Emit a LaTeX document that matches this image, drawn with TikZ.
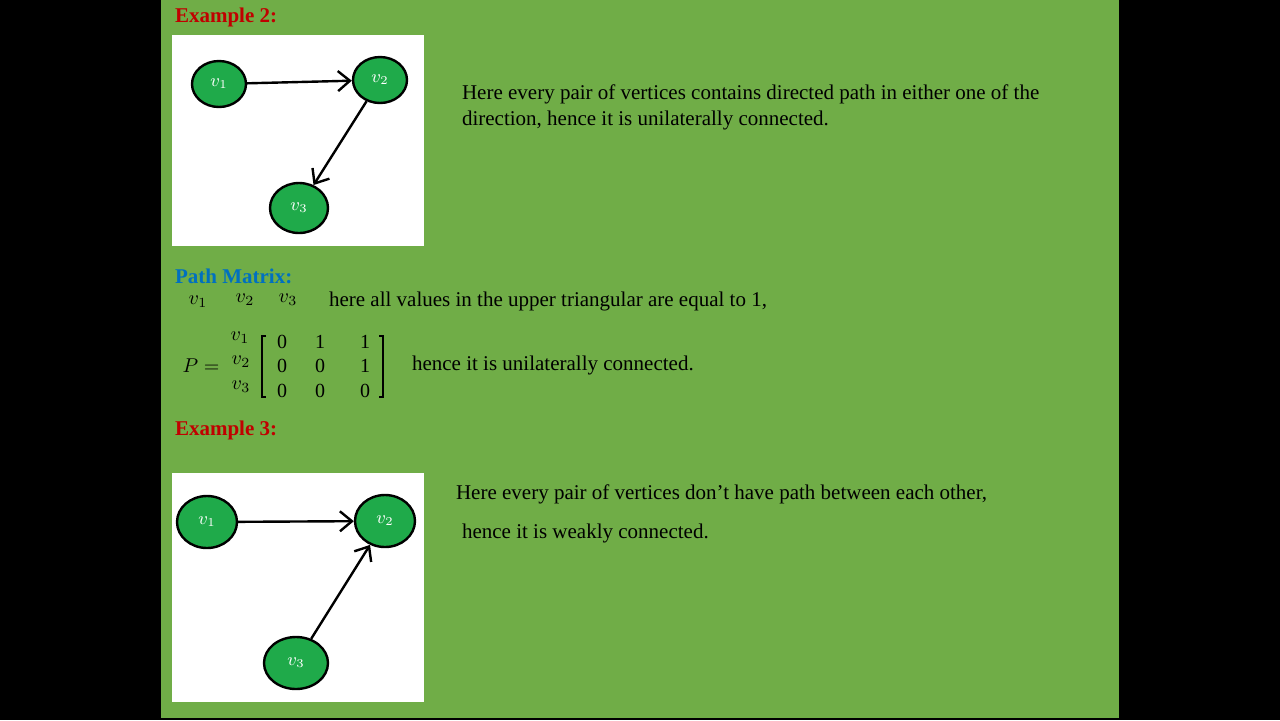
\documentclass[tikz,border=0pt]{standalone}
\usepackage{fontspec}
\setmainfont{Liberation Serif}
\usetikzlibrary{arrows.meta}
\definecolor{bg}{HTML}{70AD47}
\definecolor{nodegreen}{HTML}{1FAA4A}
\definecolor{hred}{HTML}{C00000}
\definecolor{hblue}{HTML}{0070C0}
\tikzset{
  vtx/.style={ellipse,draw=black,line width=1.2pt,fill=nodegreen,inner sep=0pt,text=white,font=\small},
  edge/.style={line width=1.2pt,-{Straight Barb[length=6pt,width=10pt,line width=1.2pt]}},
  body/.style={anchor=west,font=\fontsize{10.5}{13}\selectfont,align=left},
  head/.style={anchor=west,font=\fontsize{10.5}{13}\selectfont\bfseries},
  mtx/.style={font=\fontsize{10}{12}\selectfont}
}
\usetikzlibrary{shapes.geometric}
\begin{document}
\begin{tikzpicture}[x=0.5pt,y=-0.5pt]
\useasboundingbox (0,0) rectangle (1280,720);
\fill[black] (0,0) rectangle (1280,720);
\fill[bg] (161,0) rectangle (1119,718);
\node[head,text=hred] (h2) at (168,17) {Example 2:};
\fill[white] (172,35) rectangle (424,246);
\node[vtx,minimum width=27pt,minimum height=23pt] (a1) at (219,84) {$v_1$};
\node[vtx,minimum width=27pt,minimum height=23pt] (a2) at (380,80) {$v_2$};
\node[vtx,minimum width=29pt,minimum height=25pt] (a3) at (299,208) {$v_3$};
\draw[edge] (a1) -- (a2);
\draw[edge] (a2) -- (a3);
\node[body] (t1) at (455,107) {Here every pair of vertices contains directed path in either one of the\\direction, hence it is unilaterally connected.};
\node[head,text=hblue] (pm) at (168,276) {Path Matrix:};
\node[mtx] (c1) at (198,302) {$v_1$};
\node[mtx] (c2) at (245,300) {$v_2$};
\node[mtx] (c3) at (288,300) {$v_3$};
\node[body] (t2) at (322,301) {here all values in the upper triangular are equal to 1,};
\node[mtx] (P) at (201,366) {$P=$};
\node[mtx] (r1) at (240,338) {$v_1$};
\node[mtx] (r2) at (241,362) {$v_2$};
\node[mtx] (r3) at (241,387) {$v_3$};
\draw[line width=0.7pt] (266,336) -- (262,336) -- (262,397) -- (266,397);
\draw[line width=0.7pt] (379,336) -- (383,336) -- (383,397) -- (379,397);
\foreach \r/\y/\a/\b/\c in {1/342/0/1/1,2/366/0/0/1,3/391/0/0/0}{
  \node[mtx] (m\r a) at (282,\y) {\a};
  \node[mtx] (m\r b) at (320,\y) {\b};
  \node[mtx] (m\r c) at (365,\y) {\c};
}
\node[body] (t3) at (405,365) {hence it is unilaterally connected.};
\node[head,text=hred] (h3) at (168,430) {Example 3:};
\fill[white] (172,473) rectangle (424,702);
\node[vtx,minimum width=30pt,minimum height=26pt] (b1) at (207,522) {$v_1$};
\node[vtx,minimum width=30pt,minimum height=26pt] (b2) at (385,521) {$v_2$};
\node[vtx,minimum width=32pt,minimum height=26pt] (b3) at (296,663) {$v_3$};
\draw[edge] (b1) -- (b2);
\draw[edge] (b3) -- (b2);
\node[body] (t4) at (449,494) {Here every pair of vertices don’t have path between each other,};
\node[body] (t5) at (455,533) {hence it is weakly connected.};
\end{tikzpicture}
\end{document}
